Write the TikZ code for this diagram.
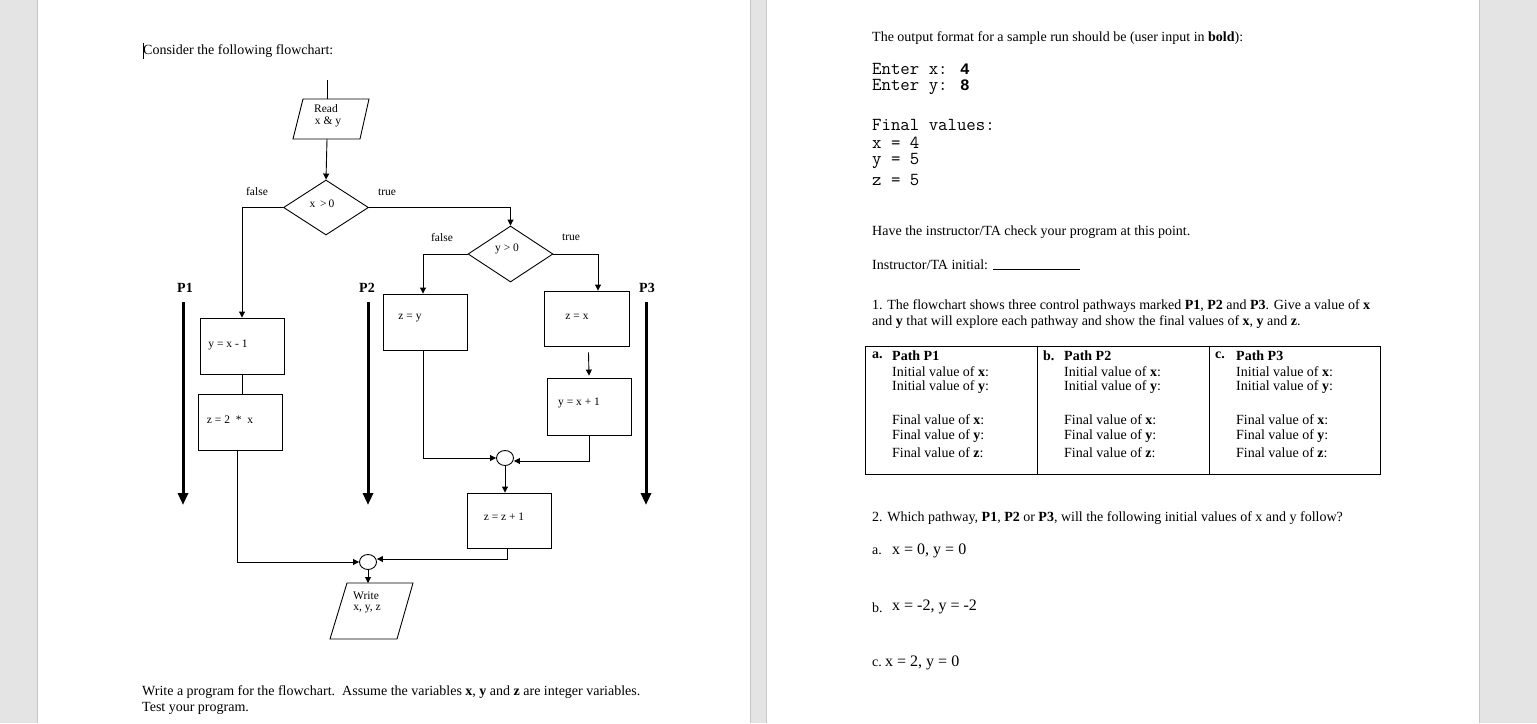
\documentclass[tikz,border=0pt]{standalone}
\usepackage{fontspec}
\setmainfont{Liberation Serif}
\newfontfamily\boldmono{Liberation Mono}
\usetikzlibrary{shapes.geometric,arrows.meta,calc}
\definecolor{pagegray}{HTML}{E4E4E4}
\definecolor{edgegray}{HTML}{C6C6C6}
\tikzset{
  body/.style={font=\fontsize{14}{16}\selectfont, anchor=west, inner sep=0pt, yshift=-1.5pt},
  big/.style={font=\fontsize{16}{18}\selectfont, anchor=west, inner sep=0pt, yshift=-1pt},
  mono/.style={font=\ttfamily\fontsize{18.3}{20}\selectfont, anchor=west, inner sep=0pt},
  fc/.style={font=\fontsize{11.5}{13}\selectfont, inner sep=0pt},
  tiny/.style={font=\fontsize{11.5}{13}\selectfont, inner sep=0pt},
  plabel/.style={font=\bfseries\fontsize{14}{16}\selectfont, inner sep=0pt},
  box/.style={draw, line width=0.9pt, inner sep=0pt},
  dia/.style={draw, diamond, line width=0.9pt, inner sep=0pt},
  merge/.style={draw, ellipse, line width=0.9pt, inner sep=0pt, minimum width=17pt, minimum height=15pt},
  conn/.style={line width=0.9pt},
  arr/.style={line width=0.9pt, -{Triangle[length=6pt,width=6pt]}},
  parr/.style={line width=3pt, -{Triangle[length=12pt,width=10pt]}},
  grid/.style={line width=1pt},
}
\newcommand{\bm}[1]{{\boldmono\bfseries\fontsize{16}{18}\selectfont #1}}
\begin{document}
\begin{tikzpicture}[x=1pt,y=-1pt]
\useasboundingbox (0,0) rectangle (1537,723);
% background and pages
\fill[pagegray] (0,0) rectangle (1537,723);
\fill[white] (37,0) rectangle (750,723);
\fill[white] (766,0) rectangle (1479,723);
\draw[edgegray] (750,0) -- (750,723);
\draw[edgegray] (766,0) -- (766,723);
\draw[edgegray] (1479,0) -- (1479,723);
\draw[edgegray] (37,0) -- (37,723);

% ---------- left page ----------
\node[body] (intro) at (143,50) {Consider the following flowchart:};
\draw[line width=0.6pt] (143,43) -- (143,59);

% Read parallelogram
\coordinate (rTL) at (303,99);
\coordinate (rTR) at (369,99);
\coordinate (rBR) at (360,139);
\coordinate (rBL) at (293,139);
\draw[conn] (rTL) -- (rTR) -- (rBR) -- (rBL) -- cycle;
\coordinate (rtop) at (327,99);
\coordinate (rbot) at (327,139);
\coordinate (start) at (327,80);
\node[fc] (readt) at (326,109) {Read};
\node[fc] (readxy) at (328,122) {x \& y};
\draw[conn] (start) -- (rtop);

% decision x > 0
\node[dia, minimum width=85pt, minimum height=55pt] (d1) at (326,207.5) {};
\node[fc] (d1t) at (322,204) {x \,>\,0};
\node[tiny] (f1) at (257,192) {false};
\node[tiny] (t1) at (387,192) {true};
\draw[arr] (rbot) -- (d1.north);

% decision y > 0
\node[dia, minimum width=85pt, minimum height=56pt] (d2) at (510.5,254) {};
\node[fc] (d2t) at (507,249) {y > 0};
\node[tiny] (f2) at (442,238) {false};
\node[tiny] (t2) at (571,237) {true};
\draw[arr] (d1.east) -| (d2.north);

% boxes
\node[box, minimum width=84pt, minimum height=56pt] (b1) at (242,346) {};
\node[fc] (b1t) at (228,345) {y = x - 1};
\node[box, minimum width=84pt, minimum height=56pt] (b6) at (240,422) {};
\node[fc] (b6t) at (230,420) {z = 2 \ * \ x};
\node[box, minimum width=84pt, minimum height=56pt] (b2) at (425,322) {};
\node[fc] (b2t) at (410,318) {z = y};
\node[box, minimum width=85pt, minimum height=55pt] (b3) at (586.5,318.5) {};
\node[fc] (b3t) at (577,317) {z = x};
\node[box, minimum width=84pt, minimum height=57pt] (b4) at (589,406.5) {};
\node[fc] (b4t) at (579,403) {y = x + 1};
\node[box, minimum width=84pt, minimum height=55pt] (b5) at (509,520.5) {};
\node[fc] (b5t) at (504,517) {z = z + 1};

% merge points
\node[merge] (m2) at (505,458) {};
\node[merge] (m1) at (368,562) {};

% Write parallelogram
\coordinate (wTL) at (347,583);
\coordinate (wTR) at (413,583);
\coordinate (wBR) at (397,639);
\coordinate (wBL) at (330,639);
\draw[conn] (wTL) -- (wTR) -- (wBR) -- (wBL) -- cycle;
\coordinate (wtop) at (368,583);
\node[fc] (writet) at (366,596) {Write};
\node[fc] (writexyz) at (367,609) {x, y, z};

% connectors
\draw[arr] (d1.west) -| (b1.north);
\draw[conn] (b1.south) -- (b1.south |- b6.north);
\draw[arr] ($(b6.south)+(-3,0)$) |- (m1.west);
\draw[arr] (d2.west) -| ($(b2.north)+(-2,0)$);
\draw[arr] (d2.east) -| ($(b3.north)+(11.5,0)$);
\draw[arr] ($(b3.south)+(2,6)$) -- ($(b4.north)+(0,-2)$);
\draw[arr] (b4.south) |- ($(m2.east)+(0,3)$);
\draw[arr] ($(b2.south)+(-2,0)$) |- (m2.west);
\draw[arr] (m2.south) -- (m2.south |- b5.north);
\draw[arr] ($(b5.south)+(-2,0)$) |- ($(m1.east)+(0,-3)$);
\draw[arr] (m1.south) -- (wtop);

% pathway markers
\node[plabel] (P1) at (185,288) {P1};
\node[plabel] (P2) at (367,288) {P2};
\node[plabel] (P3) at (647,288) {P3};
\coordinate (p1s) at (183,302); \coordinate (p1e) at (183,505);
\coordinate (p2s) at (368,302); \coordinate (p2e) at (368,505);
\coordinate (p3s) at (646,302); \coordinate (p3e) at (646,505);
\draw[parr] (p1s) -- (p1e);
\draw[parr] (p2s) -- (p2e);
\draw[parr] (p3s) -- (p3e);

\node[body] (task1) at (142,691) {Write a program for the flowchart.\ \ Assume the variables \textbf{x}, \textbf{y} and \textbf{z} are integer variables.};
\node[body] (task2) at (142,707) {Test your program.};

% ---------- right page ----------
\node[body] (fmt) at (872,37) {The output format for a sample run should be (user input in \textbf{bold}):};
\node[mono] (o1) at (872,69) {Enter x: \bm{4}};
\node[mono] (o2) at (872,87) {Enter y: \bm{8}};
\node[mono] (o3) at (872,125) {Final values:};
\node[mono] (o4) at (872,143) {x = 4};
\node[mono] (o5) at (872,161) {y = 5};
\node[mono] (o6) at (872,180) {z = 5};

\node[body] (check) at (872,231) {Have the instructor/TA check your program at this point.};
\node[body] (init) at (872,263) {Instructor/TA initial:};
\coordinate (ul1) at (993,269); \coordinate (ul2) at (1080,269);
\draw[line width=0.9pt] (ul1) -- (ul2);

\node[body] (q1a) at (872,305) {1. The flowchart shows three control pathways marked \textbf{P1}, \textbf{P2} and \textbf{P3}. Give a value of \textbf{x}};
\node[body] (q1b) at (872,321) {and \textbf{y} that will explore each pathway and show the final values of \textbf{x}, \textbf{y} and \textbf{z}.};

% table
\coordinate (tTL) at (865,346);
\coordinate (tBR) at (1380,474);
\draw[grid] (tTL) rectangle (tBR);
\draw[grid] (1037,346) -- (1037,474);
\draw[grid] (1209,346) -- (1209,474);

\foreach \lab/\p/\lx/\tx in {a/1/872/892, b/2/1043/1064, c/3/1215/1236}{
  \node[body] (h\lab) at (\lx,354) {\textbf{\lab.}};
  \node[body] (ph\lab) at (\tx,354) {\textbf{Path P\p}};
  \node[body] (ix\lab) at (\tx,370) {Initial value of \textbf{x}:};
  \node[body] (iy\lab) at (\tx,386) {Initial value of \textbf{y}:};
  \node[body] (fx\lab) at (\tx,418) {Final value of \textbf{x}:};
  \node[body] (fy\lab) at (\tx,435) {Final value of \textbf{y}:};
  \node[body] (fz\lab) at (\tx,451) {Final value of \textbf{z}:};
}

\node[body] (q2) at (872,517) {2. Which pathway, \textbf{P1}, \textbf{P2} or \textbf{P3}, will the following initial values of x and y follow?};
\node[body] (q2a) at (872,550) {a.};
\node[big] (q2av) at (892,550) {x = 0, y = 0};
\node[body] (q2b) at (872,606) {b.};
\node[big] (q2bv) at (892,606) {x = -2, y = -2};
\node[body] (q2c) at (872,662) {c.};
\node[big] (q2cv) at (885,662) {x = 2, y = 0};
\end{tikzpicture}
\end{document}
